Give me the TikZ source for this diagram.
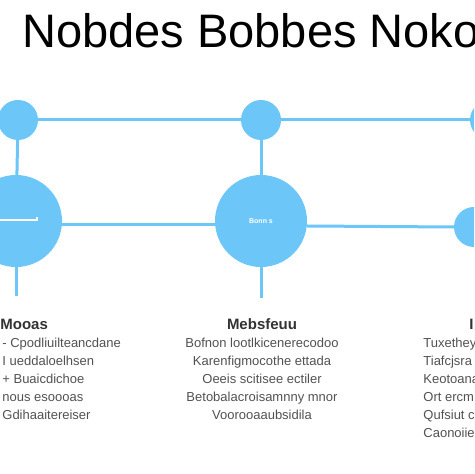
\documentclass[tikz,border=0pt]{standalone}
\usepackage{fontspec}
\setmainfont{Liberation Sans}
\usetikzlibrary{positioning}
\definecolor{myblue}{RGB}{108,198,248}
\colorlet{mygray}{black!68}
\tikzset{
  node/.style={circle,fill=myblue,inner sep=0,outer sep=0},
  node small/.style={node,minimum size=20pt},
  node big/.style={node,minimum size=46pt},
  connect/.style={myblue,line width=1.5pt},
  heading/.style={font=\fontsize{7.5}{8}\selectfont\bfseries,text=black!80,inner sep=0},
  body/.style={font=\fontsize{6.5}{7}\selectfont,text=mygray,inner sep=0}
}

\begin{document}
\begin{tikzpicture}[x=0.5pt,y=-0.5pt]
	\useasboundingbox (0,0) rectangle (474,474);
	\clip (0,0) rectangle (474,474);
	\fill[white] (0,0) rectangle (474,474);

	% Title
	\node[anchor=base west,inner sep=0,font=\fontsize{23.5}{24}\selectfont] (title) at (22,48) {Nobdes Bobbes Noko};

	% Circles
	\node[node small] (top1) at (18,120) {};
	\node[node small] (top2) at (261,120) {};
	\node[node small] (top3) at (490,120) {};
	\node[node big] (big1) at (16,221) {};
	\node[node big] (big2) at (261,221) {};
	\node[node small] (mid3) at (474,227) {};

	\coordinate (down1) at (16,296);
	\coordinate (down2) at (261,298);

	% Connectors
	\draw[connect] (top1) -- (top2);
	\draw[connect] (top2) -- (top3);
	\draw[connect] (top1) -- (big1);
	\draw[connect] (top2) -- (big2);
	\draw[connect] ([yshift=-2pt]big1.east) -- ([yshift=-2pt]big2.west);
	\draw[connect] ([yshift=-2.5pt]big2.east) -- (mid3.west);
	\draw[connect] (big1) -- (down1);
	\draw[connect] (big2) -- (down2);

	% Marks inside the big circles
	\draw[white,line width=0.8pt] (0,220) -- (37,220) -- (37,217);
	\node[white,font=\fontsize{3.5}{4}\selectfont\bfseries] (bon) at (big2) {Bonn s};

	% Left column
	\node[heading,anchor=base west] (hl) at (0,329) {Mooas};
	\foreach \t [count=\i] in {- Cpodliuilteancdane,I ueddaloelhsen,+ Buaicdichoe,nous  esoooas,Gdihaaitereiser}
	\node[body,anchor=base west] (l\i) at (2,329+18*\i) {\t};

	% Middle column
	\node[heading,anchor=base] (hm) at (262,329) {Mebsfeuu};
	\foreach \t [count=\i] in {Bofnon lootlkicenerecodoo,Karenfigmocothe  ettada,Oeeis scitisee  ectiler,Betobalacroisamnny  mnor,Voorooaaubsidila}
	\node[body,anchor=base] (m\i) at (262,329+18*\i) {\t};

	% Right column
	\node[heading,anchor=base west] (hr) at (469,329) {I};
	\foreach \t [count=\i] in {Tuxethey,Tiafcjsra,Keotoana,Ort ercm,Qufsiut ca,Caonoiies}
	\node[body,anchor=base west] (r\i) at (423,329+18*\i) {\t};
\end{tikzpicture}
\end{document}
